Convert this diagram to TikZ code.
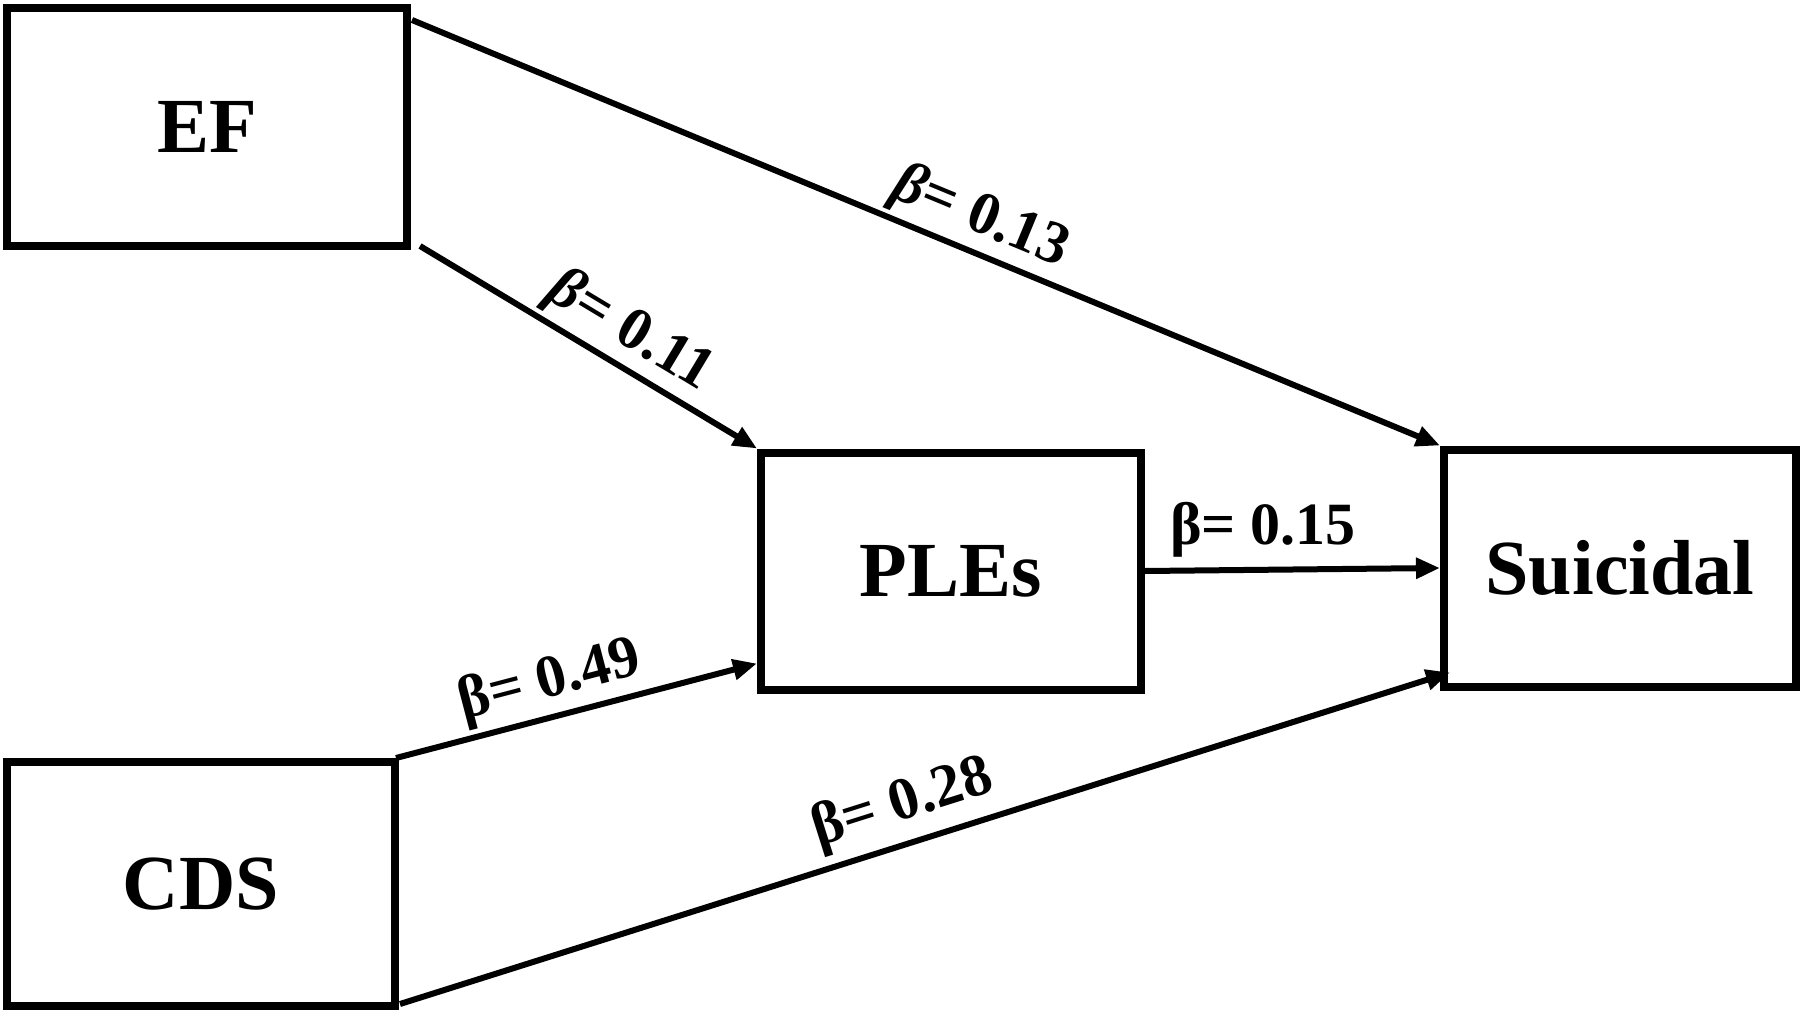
\documentclass[tikz,border=0pt]{standalone}
\usepackage{fontspec}
\setmainfont{Liberation Serif}
\usetikzlibrary{arrows.meta}
\begin{document}
\begin{tikzpicture}[x=1pt,y=-1pt,
  box/.style={draw,line width=8pt,inner sep=0pt,font=\fontsize{78}{80}\selectfont\bfseries},
  arr/.style={line width=6pt,-{Triangle[length=24pt,width=20pt]}},
  lab/.style={font=\fontsize{60}{62}\selectfont\bfseries,inner sep=4pt}]
\useasboundingbox (0,0) rectangle (1800,1014);
\node[box,minimum width=400pt,minimum height=237pt] (ef) at (207,127) {EF};
\node[box,minimum width=380pt,minimum height=237pt] (ple) at (951,571) {PLEs};
\node[box,minimum width=352pt,minimum height=237pt] (su) at (1620,568) {Suicidal};
\node[box,minimum width=388pt,minimum height=244pt] (cds) at (201,884) {CDS};
\coordinate (a1) at (412,20);
\coordinate (a2) at (420,246);
\coordinate (a3) at (396,758);
\coordinate (a4) at (400,1004);
\draw[arr] (a1) -- (su.north west) node[lab,pos=0.54,sloped,above] {\textit{β}= 0.13};
\draw[arr] (a2) -- (ple.north west) node[lab,pos=0.57,sloped,above] {\textit{β}= 0.11};
\draw[arr] (a3) -- ([yshift=30pt]ple.south west) node[lab,pos=0.45,sloped,above] {β= 0.49};
\draw[arr] (ple.east) -- (su.west) node[lab,pos=0.4,above=6pt] {β= 0.15};
\draw[arr] (a4) -- ([xshift=10pt,yshift=18pt]su.south west) node[lab,pos=0.49,sloped,above=4pt] {β= 0.28};
\end{tikzpicture}
\end{document}
